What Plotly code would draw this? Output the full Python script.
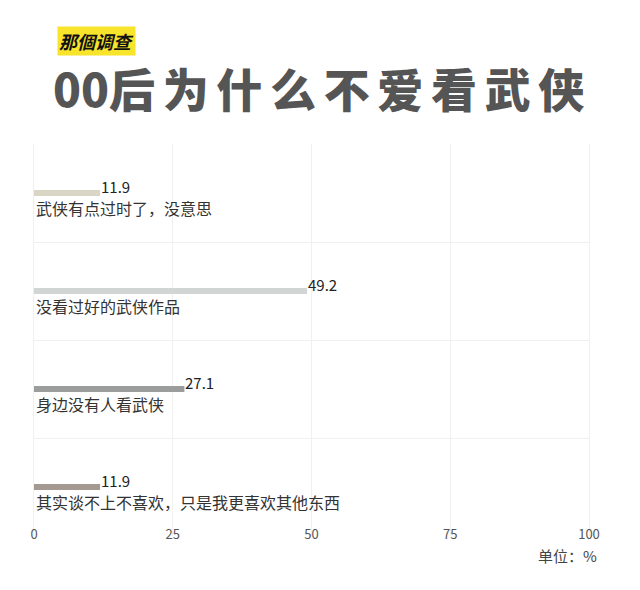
import plotly.graph_objects as go

categories = ["武侠有点过时了，没意思", "没看过好的武侠作品", "身边没有人看武侠", "其实谈不上不喜欢，只是我更喜欢其他东西"]
values = [11.9, 49.2, 27.1, 11.9]
bar_colors = ["#d9d6c6", "#d1d5d4", "#9b9d9c", "#a59a92"]
x_ticks = [0, 25, 50, 75, 100]
title_chars = ["00后", "为", "什", "么", "不", "爱", "看", "武", "侠"]
badge_text = "那個调查"
unit_text = "单位：%"

title_text = "\u2006".join(title_chars)

n = len(categories)
ypos = [n - 1 - i for i in range(n)]

FONT = "Noto Sans CJK SC"
GRID = "#f0f0f0"

fig = go.Figure()
fig.add_trace(go.Bar(
    x=values, y=ypos, orientation="h",
    marker=dict(color=bar_colors, line=dict(width=0)),
    width=0.062, hoverinfo="skip",
))

ann = []
for c, v, y in zip(categories, values, ypos):
    ann.append(dict(x=0, y=y, xref="x", yref="y", text=c, showarrow=False,
                    xanchor="left", yanchor="middle", yshift=-15,
                    font=dict(family=FONT, size=16, color="#333333")))
    ann.append(dict(x=v, y=y, xref="x", yref="y", text=f"{v:.1f}", showarrow=False,
                    xanchor="left", yanchor="middle", xshift=-1, yshift=7,
                    font=dict(family=FONT, size=15, color="#222222")))

ann.append(dict(x=1, y=0, xref="paper", yref="paper", text=unit_text, showarrow=False,
                xanchor="right", yanchor="middle", xshift=10, yshift=-19,
                font=dict(family=FONT, size=15, color="#444444")))
ann.append(dict(x=0.0414, y=1, xref="paper", yref="paper", text="<b><i>" + badge_text + "</i></b>",
                showarrow=False, xanchor="left", yanchor="middle", yshift=103,
                bgcolor="#f7e42b", borderpad=1,
                font=dict(family=FONT, size=18, color="#111111")))
ann.append(dict(x=0.5126, y=1, xref="paper", yref="paper", text=title_text,
                showarrow=False, xanchor="center", yanchor="middle", yshift=57,
                font=dict(family=FONT, size=46, color="#555555", weight=900)))

fig.update_layout(
    width=640, height=590,
    margin=dict(l=26, r=59, t=136, b=62),
    paper_bgcolor="white", plot_bgcolor="white",
    showlegend=False, annotations=ann,
    xaxis=dict(range=[0, 100], tickvals=x_ticks, showgrid=True, gridcolor=GRID,
               zeroline=False, showline=False, ticks="",
               ticklabelstandoff=-11,
               tickfont=dict(family=FONT, size=13, color="#555555"), fixedrange=True),
    yaxis=dict(range=[-0.5, n - 0.5], tickvals=[i - 0.5 for i in range(n + 1)],
               showticklabels=False, showgrid=True, gridcolor=GRID, zeroline=False,
               showline=True, linecolor=GRID, mirror=True, ticks="", fixedrange=True),
)

fig.write_html("out.html")
